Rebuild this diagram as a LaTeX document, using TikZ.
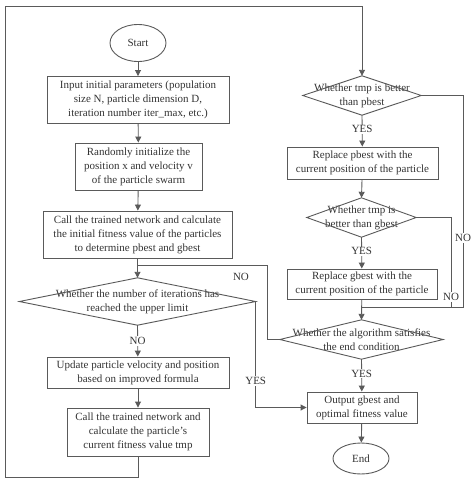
\documentclass[tikz,border=0pt]{standalone}
\usepackage{fontspec}
\setmainfont{Liberation Serif}
\usetikzlibrary{arrows.meta,shapes.geometric}
\definecolor{ln}{HTML}{5A5A5A}
\definecolor{tx}{HTML}{333333}
\tikzset{
  base/.style={font=\fontsize{11}{14}\selectfont, text=tx, align=center, inner sep=0pt},
  box/.style={base, draw=ln, line width=0.9pt, rectangle},
  term/.style={base, draw=ln, line width=0.9pt, ellipse},
  decision/.style={base, rectangle},
  dshape/.style={draw=ln, line width=0.9pt},
  conn/.style={draw=ln, line width=0.9pt},
  arr/.style={conn, -{Triangle[length=6pt,width=6pt]}},
  lbl/.style={base, fill=white, inner sep=1pt},
}
\begin{document}
\begin{tikzpicture}[x=1pt,y=-1pt]
\useasboundingbox (0,0) rectangle (474,485);
% left column
\node[term, minimum width=56pt, minimum height=37pt] (start) at (138,43) {Start};
\node[box, minimum width=182pt, minimum height=47pt] (b1) at (138,100) {Input initial parameters (population\\size N, particle dimension D,\\iteration number iter\_max, etc.)};
\node[box, minimum width=127pt, minimum height=47pt] (b2) at (138.5,166.5) {Randomly initialize the\\position x and velocity v\\of the particle swarm};
\node[box, minimum width=189pt, minimum height=47pt] (b3) at (137.5,234.5) {Call the trained network and calculate\\the initial fitness value of the particles\\to determine pbest and gbest};
\node[decision, minimum width=236pt, minimum height=47pt] (d1) at (137.5,301.5) {Whether the number of iterations has\\reached the upper limit};
\node[box, minimum width=182pt, minimum height=31pt] (b4) at (138,372.5) {Update particle velocity and position\\based on improved formula};
\node[box, minimum width=142pt, minimum height=48pt] (b5) at (138,432) {Call the trained network and\\calculate the particle's\\current fitness value tmp};
% right column
\node[decision, minimum width=118pt, minimum height=39pt] (dp) at (362,95.5) {Whether tmp is better\\than pbest};
\node[box, minimum width=151pt, minimum height=32pt] (bp) at (362.5,163) {Replace pbest with the\\current position of the particle};
\node[decision, minimum width=109pt, minimum height=39pt] (dg) at (361.5,217.5) {Whether tmp is\\better than gbest};
\node[box, minimum width=150pt, minimum height=30pt] (bg) at (362,284) {Replace gbest with the\\current position of the particle};
\node[decision, minimum width=163pt, minimum height=39pt] (de) at (361.5,339.5) {Whether the algorithm satisfies\\the end condition};
\node[box, minimum width=110pt, minimum height=31pt] (out) at (362,407.5) {Output gbest and\\optimal fitness value};
\node[term, minimum width=56pt, minimum height=31pt] (end) at (361,458.5) {End};
% diamond outlines
\foreach \d in {d1,dp,dg,de}{
  \draw[dshape] (\d.west) -- (\d.north) -- (\d.east) -- (\d.south) -- cycle;
}
% helper coordinates
\coordinate (lb) at (5,477);
\coordinate (lt) at (5,6);
\coordinate (r1) at (463,307);
\coordinate (r2) at (451,307);
\coordinate (j) at (362,307);
\coordinate (c1) at (267,339.5);
\coordinate (j2) at (137.5,265);
% connectors
\draw[arr] (start) -- (b1);
\draw[arr] (b1) -- (b2);
\draw[arr] (b2) -- (b3);
\draw[arr] (b3) -- (d1.north);
\draw[arr] (d1.south) -- node[lbl] {NO} (b4);
\draw[arr] (b4) -- (b5);
\draw[arr] (b5.south) |- (lb) -- (lt) -| (dp.north);
\draw[arr] (dp.south) -- node[lbl, pos=0.45] {YES} (bp);
\draw[arr] (bp) -- (dg.north);
\draw[arr] (dg.south) -- node[lbl, pos=0.45] {YES} (bg);
\draw[arr] (bg) -- (de.north);
\draw[conn] (dp.east) -| (r1) -- (j);
\node[lbl] at (463,238) {NO};
\draw[conn] (dg.east) -| (r2);
\node[lbl] at (451,297) {NO};
\draw[conn] (de.west) -- (c1) |- (j2);
\node[base] at (241,277) {NO};
\draw[arr] (d1.east) |- node[lbl, pos=0.375] {YES} (out.west);
\draw[arr] (de.south) -- node[lbl, pos=0.45] {YES} (out);
\draw[arr] (out) -- (end);
\end{tikzpicture}
\end{document}
